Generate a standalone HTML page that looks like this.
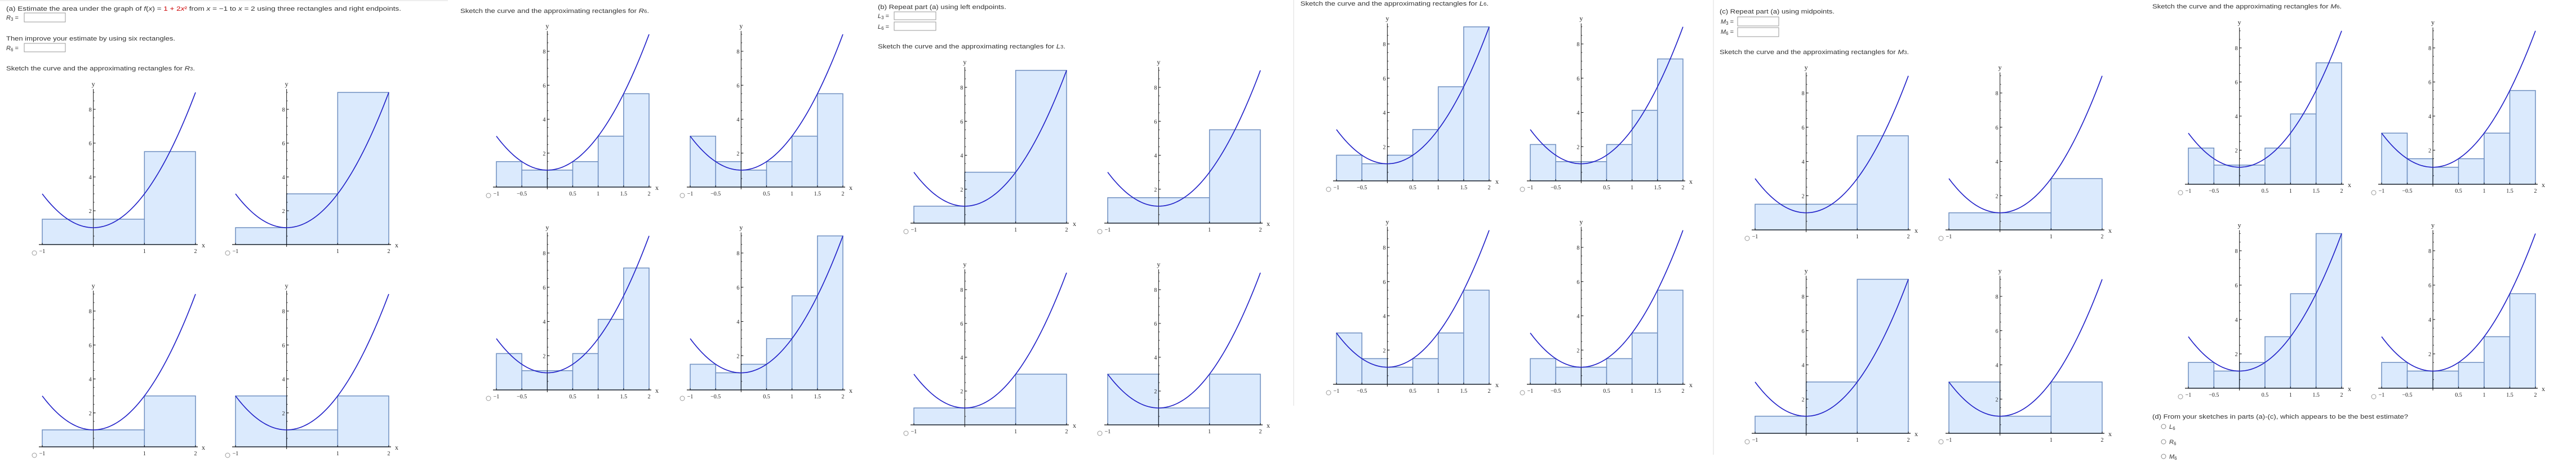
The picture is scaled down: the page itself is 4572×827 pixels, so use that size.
<!DOCTYPE html>
<html><head><meta charset="utf-8">
<style>
html,body{margin:0;padding:0;background:#fff;}
svg{display:block;}
.ui{font-family:"Liberation Sans",sans-serif;font-size:11px;fill:#333;}
.tk{font-family:"Liberation Serif",serif;font-size:10px;fill:#222;}
.lb{font-family:"Liberation Serif",serif;font-size:12px;fill:#222;}
</style></head>
<body>
<svg id="root" width="4572" height="827" viewBox="0 0 4572 827" xmlns="http://www.w3.org/2000/svg">
<rect x="0" y="0" width="4572" height="827" fill="#fff"/>
<line x1="0" y1="1" x2="795" y2="1" stroke="#ddd"/>
<line x1="2296" y1="0" x2="2296" y2="720" stroke="#ddd"/>
<line x1="3041" y1="0" x2="3041" y2="807" stroke="#ddd"/>

<!-- Panel 1 -->
<text class="ui" x="11" y="19" textLength="701" lengthAdjust="spacingAndGlyphs">(a) Estimate the area under the graph of <tspan font-style="italic">f</tspan>(<tspan font-style="italic">x</tspan>) = <tspan fill="#c00">1 + 2<tspan font-style="italic">x</tspan>²</tspan> from <tspan font-style="italic">x</tspan> = −1 to <tspan font-style="italic">x</tspan> = 2 using three rectangles and right endpoints.</text>
<text class="ui" x="11" y="35"><tspan font-style="italic">R</tspan><tspan font-size="8" dy="2">3</tspan><tspan dy="-2"> =</tspan></text>
<rect x="43" y="23" width="73" height="16" fill="#fff" stroke="#999"/>
<text class="ui" x="11" y="72" textLength="300" lengthAdjust="spacingAndGlyphs">Then improve your estimate by using six rectangles.</text>
<text class="ui" x="11" y="89"><tspan font-style="italic">R</tspan><tspan font-size="8" dy="2">6</tspan><tspan dy="-2"> =</tspan></text>
<rect x="43" y="77" width="73" height="15" fill="#fff" stroke="#999"/>
<text class="ui" x="11" y="125" textLength="335" lengthAdjust="spacingAndGlyphs">Sketch the curve and the approximating rectangles for <tspan font-style="italic">R</tspan><tspan font-size="8">3</tspan>.</text>

<!-- Panel 2 -->
<text class="ui" x="817" y="23" textLength="335" lengthAdjust="spacingAndGlyphs">Sketch the curve and the approximating rectangles for <tspan font-style="italic">R</tspan><tspan font-size="8">6</tspan>.</text>

<!-- Panel 3 -->
<text class="ui" x="1558" y="16" textLength="228" lengthAdjust="spacingAndGlyphs">(b) Repeat part (a) using left endpoints.</text>
<text class="ui" x="1558" y="32"><tspan font-style="italic">L</tspan><tspan font-size="8" dy="2">3</tspan><tspan dy="-2"> =</tspan></text>
<rect x="1587" y="21" width="74" height="14" fill="#fff" stroke="#999"/>
<text class="ui" x="1558" y="51"><tspan font-style="italic">L</tspan><tspan font-size="8" dy="2">6</tspan><tspan dy="-2"> =</tspan></text>
<rect x="1587" y="39" width="74" height="15" fill="#fff" stroke="#999"/>
<text class="ui" x="1558" y="86" textLength="333" lengthAdjust="spacingAndGlyphs">Sketch the curve and the approximating rectangles for <tspan font-style="italic">L</tspan><tspan font-size="8">3</tspan>.</text>

<!-- Panel 4 -->
<text class="ui" x="2308" y="10" textLength="334" lengthAdjust="spacingAndGlyphs">Sketch the curve and the approximating rectangles for <tspan font-style="italic">L</tspan><tspan font-size="8">6</tspan>.</text>

<!-- Panel 5 -->
<text class="ui" x="3052" y="24" textLength="204" lengthAdjust="spacingAndGlyphs">(c) Repeat part (a) using midpoints.</text>
<text class="ui" x="3054" y="42"><tspan font-style="italic">M</tspan><tspan font-size="8" dy="2">3</tspan><tspan dy="-2"> =</tspan></text>
<rect x="3084" y="30" width="73" height="16" fill="#fff" stroke="#999"/>
<text class="ui" x="3054" y="60"><tspan font-style="italic">M</tspan><tspan font-size="8" dy="2">6</tspan><tspan dy="-2"> =</tspan></text>
<rect x="3084" y="49" width="73" height="16" fill="#fff" stroke="#999"/>
<text class="ui" x="3052" y="96" textLength="336" lengthAdjust="spacingAndGlyphs">Sketch the curve and the approximating rectangles for <tspan font-style="italic">M</tspan><tspan font-size="8">3</tspan>.</text>

<!-- Panel 6 -->
<text class="ui" x="3820" y="15" textLength="336" lengthAdjust="spacingAndGlyphs">Sketch the curve and the approximating rectangles for <tspan font-style="italic">M</tspan><tspan font-size="8">6</tspan>.</text>
<text class="ui" x="3820" y="743" textLength="454" lengthAdjust="spacingAndGlyphs">(d) From your sketches in parts (a)-(c), which appears to be the best estimate?</text>
<circle cx="3840" cy="757" r="4" fill="#fff" stroke="#888"/>
<text class="ui" x="3850" y="761"><tspan font-style="italic">L</tspan><tspan font-size="8" dy="2">6</tspan></text>
<circle cx="3840" cy="784" r="4" fill="#fff" stroke="#888"/>
<text class="ui" x="3850" y="788"><tspan font-style="italic">R</tspan><tspan font-size="8" dy="2">6</tspan></text>
<circle cx="3840" cy="810" r="4" fill="#fff" stroke="#888"/>
<text class="ui" x="3850" y="814"><tspan font-style="italic">M</tspan><tspan font-size="8" dy="2">6</tspan></text>

<g id="graphs"></g>
</svg>

<script>
// ---- data: rectangle edges (x) and heights (y) per graph ----
const edgesWide = [-1, 1, 2];
const edgesThree = [-1, 0, 1, 2];
const edgesSix = [-1, -0.5, 0, 0.5, 1, 1.5, 2];

const p1g1Heights = [1.5, 5.5];
const p1g2Heights = [1, 3, 9];
const p1g3Heights = [1, 3];
const p1g4Heights = [3, 1, 3];

const p2g1Heights = [1.5, 1, 1, 1.5, 3, 5.5];
const p2g2Heights = [3, 1.5, 1, 1.5, 3, 5.5];
const p2g3Heights = [2.125, 1.125, 1.125, 2.125, 4.125, 7.125];
const p2g4Heights = [1.5, 1, 1.5, 3, 5.5, 9];

const p3g1Heights = [1, 3, 9];
const p3g2Heights = [1.5, 5.5];
const p3g3Heights = [1, 3];
const p3g4Heights = [3, 1, 3];

const p4g1Heights = [1.5, 1, 1.5, 3, 5.5, 9];
const p4g2Heights = [2.125, 1.125, 1.125, 2.125, 4.125, 7.125];
const p4g3Heights = [3, 1.5, 1, 1.5, 3, 5.5];
const p4g4Heights = [1.5, 1, 1, 1.5, 3, 5.5];

const p5g1Heights = [1.5, 5.5];
const p5g2Heights = [1, 3];
const p5g3Heights = [1, 3, 9];
const p5g4Heights = [3, 1, 3];

const p6g1Heights = [2.125, 1.125, 1.125, 2.125, 4.125, 7.125];
const p6g2Heights = [3, 1.5, 1, 1.5, 3, 5.5];
const p6g3Heights = [1.5, 1, 1.5, 3, 5.5, 9];
const p6g4Heights = [1.5, 1, 1, 1.5, 3, 5.5];

const xTicksCoarse = [-1, 1, 2];
const xTickLabelsCoarse = ["−1", "1", "2"];
const xTicksFine = [-1, -0.5, 0.5, 1, 1.5, 2];
const xTickLabelsFine = ["−1", "−0.5", "0.5", "1", "1.5", "2"];
const yTicks = [2, 4, 6, 8];
const yTickLabels = ["2", "4", "6", "8"];

function f(x) { return 1 + 2 * x * x; }

// ---- layout (pixel frames: x of -1, x of 2, y of 0, y of 8) ----
const graphs = [
  {n:"p1-g1", fr:[75,347,434,194], e:edgesWide, h:p1g1Heights, fine:false},
  {n:"p1-g2", fr:[418,690,434,194], e:edgesThree, h:p1g2Heights, fine:false},
  {n:"p1-g3", fr:[75,347,793,552], e:edgesWide, h:p1g3Heights, fine:false},
  {n:"p1-g4", fr:[418,690,793,552], e:edgesThree, h:p1g4Heights, fine:false},
  {n:"p2-g1", fr:[881,1152,332,91], e:edgesSix, h:p2g1Heights, fine:true},
  {n:"p2-g2", fr:[1225,1496,332,91], e:edgesSix, h:p2g2Heights, fine:true},
  {n:"p2-g3", fr:[881,1152,692,449], e:edgesSix, h:p2g3Heights, fine:true},
  {n:"p2-g4", fr:[1225,1496,692,449], e:edgesSix, h:p2g4Heights, fine:true},
  {n:"p3-g1", fr:[1622,1893,396,155], e:edgesThree, h:p3g1Heights, fine:false},
  {n:"p3-g2", fr:[1966,2237,396,155], e:edgesWide, h:p3g2Heights, fine:false},
  {n:"p3-g3", fr:[1622,1893,754,514], e:edgesWide, h:p3g3Heights, fine:false},
  {n:"p3-g4", fr:[1966,2237,754,514], e:edgesThree, h:p3g4Heights, fine:false},
  {n:"p4-g1", fr:[2372,2643,321,78], e:edgesSix, h:p4g1Heights, fine:true},
  {n:"p4-g2", fr:[2716,2987,321,78], e:edgesSix, h:p4g2Heights, fine:true},
  {n:"p4-g3", fr:[2372,2643,682,439], e:edgesSix, h:p4g3Heights, fine:true},
  {n:"p4-g4", fr:[2716,2987,682,439], e:edgesSix, h:p4g4Heights, fine:true},
  {n:"p5-g1", fr:[3115,3387,408,165], e:edgesWide, h:p5g1Heights, fine:false},
  {n:"p5-g2", fr:[3459,3731,408,165], e:edgesWide, h:p5g2Heights, fine:false},
  {n:"p5-g3", fr:[3115,3387,769,526], e:edgesThree, h:p5g3Heights, fine:false},
  {n:"p5-g4", fr:[3459,3731,769,526], e:edgesThree, h:p5g4Heights, fine:false},
  {n:"p6-g1", fr:[3884,4156,327,85], e:edgesSix, h:p6g1Heights, fine:true},
  {n:"p6-g2", fr:[4227,4500,327,85], e:edgesSix, h:p6g2Heights, fine:true},
  {n:"p6-g3", fr:[3884,4156,689,445], e:edgesSix, h:p6g3Heights, fine:true},
  {n:"p6-g4", fr:[4227,4500,689,445], e:edgesSix, h:p6g4Heights, fine:true}
];

const NS = "http://www.w3.org/2000/svg";
function mk(tag, attrs, parent) {
  const el = document.createElementNS(NS, tag);
  for (const k in attrs) el.setAttribute(k, attrs[k]);
  parent.appendChild(el);
  return el;
}

const host = document.getElementById("graphs");
graphs.forEach(function (g) {
  const x0px = g.fr[0], x2px = g.fr[1], y0px = g.fr[2], y8px = g.fr[3];
  const ux = (x2px - x0px) / 3, uy = (y0px - y8px) / 8;
  const sx = function (v) { return x0px + (v + 1) * ux; };
  const sy = function (v) { return y0px - v * uy; };

  const grp = mk("g", {}, host);
  
  

  // rectangles
  g.h.forEach(function (hv, i) {
    const a = sx(g.e[i]), b = sx(g.e[i + 1]);
    const r = mk("rect", {x: a, y: sy(hv), width: b - a, height: sy(0) - sy(hv), fill: "#dbeafd", stroke: "#6f8fc0", "stroke-width": 1.5}, grp);
    
    
  });

  // axes
  const xa = mk("line", {x1: sx(-1) - 6, y1: sy(0), x2: sx(2) + 4, y2: sy(0), stroke: "#111", "stroke-width": 1.3}, grp);
  
  
  const ya = mk("line", {x1: sx(0), y1: sy(9.2), x2: sx(0), y2: sy(0) + 4, stroke: "#111", "stroke-width": 1}, grp);
  
  

  // minor y ticks
  for (let v = 0.5; v <= 9; v += 0.5) {
    mk("line", {x1: sx(0), y1: sy(v), x2: sx(0) + 2, y2: sy(v), stroke: "#111", "stroke-width": 0.8}, grp);
  }
  // y tick labels
  yTicks.forEach(function (v, i) {
    mk("line", {x1: sx(0), y1: sy(v), x2: sx(0) + 4, y2: sy(v), stroke: "#111", "stroke-width": 1}, grp);
    const t = mk("text", {x: sx(0) - 3, y: sy(v) + 4, class: "tk", "text-anchor": "end"}, grp);
    t.textContent = yTickLabels[i];
    
    
  });
  // x ticks
  const ticks = g.fine ? xTicksFine : xTicksCoarse;
  const labs = g.fine ? xTickLabelsFine : xTickLabelsCoarse;
  ticks.forEach(function (v, i) {
    mk("line", {x1: sx(v), y1: sy(0), x2: sx(v), y2: sy(0) - 3, stroke: "#111", "stroke-width": 1}, grp);
    const t = mk("text", {x: sx(v), y: sy(0) + 15, class: "tk", "text-anchor": "middle"}, grp);
    t.textContent = labs[i];
    
    
  });
  // axis labels
  const yl = mk("text", {x: sx(0), y: sy(9.2) - 5, class: "lb", "text-anchor": "middle"}, grp);
  yl.textContent = "y";
  
  
  const xl = mk("text", {x: sx(2) + 14, y: sy(0) + 5, class: "lb", "text-anchor": "middle"}, grp);
  xl.textContent = "x";
  
  

  // curve
  let d = "";
  for (let k = 0; k <= 90; k++) {
    const xv = -1 + 3 * k / 90;
    d += (k ? "L" : "M") + sx(xv).toFixed(2) + "," + sy(f(xv)).toFixed(2);
  }
  const c = mk("path", {d: d, fill: "none", stroke: "#1f1fc8", "stroke-width": 1.6}, grp);
  
  

  // radio button
  const rb = mk("circle", {cx: sx(-1) - 14, cy: sy(0) + 15, r: 4, fill: "#fff", stroke: "#999"}, grp);
  
  
});
</script>
</body></html>
